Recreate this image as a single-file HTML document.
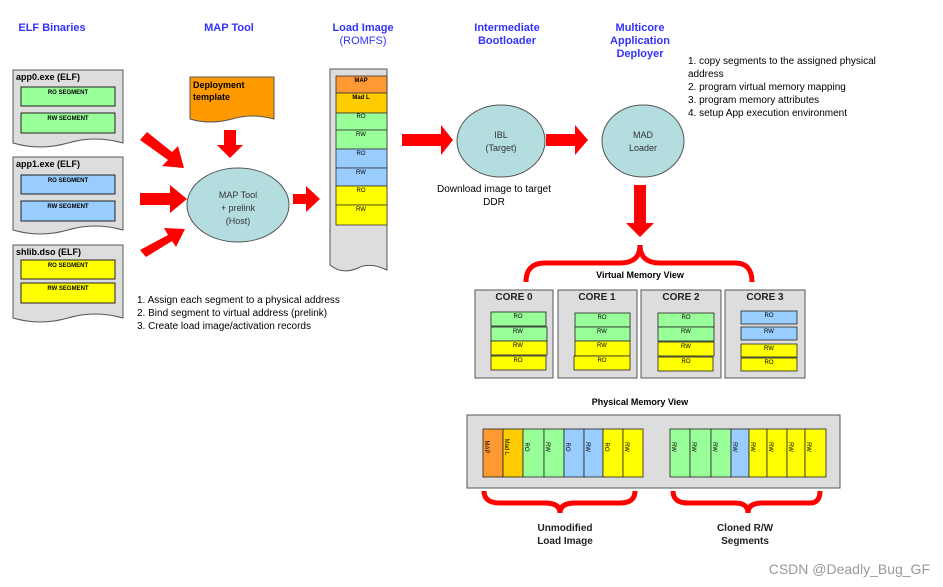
<!DOCTYPE html>
<html><head><meta charset="utf-8"><style>
body{margin:0;background:#fff}
svg{display:block;font-family:"Liberation Sans",sans-serif}
.t{font-size:6px;text-anchor:middle;fill:#000}
</style></head><body>
<svg width="943" height="587" viewBox="0 0 943 587" xmlns="http://www.w3.org/2000/svg">
<g font-weight="bold" font-size="11" fill="#3333ff" text-anchor="middle">
<text x="52" y="31">ELF Binaries</text>
<text x="229" y="31">MAP Tool</text>
<text x="363" y="31">Load Image</text>
<text x="363" y="44" font-weight="normal">(ROMFS)</text>
<text x="507" y="31">Intermediate</text>
<text x="507" y="44">Bootloader</text>
<text x="640" y="31">Multicore</text>
<text x="640" y="44">Application</text>
<text x="640" y="57">Deployer</text>
</g>
<!-- ELF docs -->
<g stroke="#555" stroke-width="1" fill="#ddd">
<path d="M13,70 H123 V143 Q95,135 68,143 Q40,151 13,143 Z"/>
<path d="M13,157 H123 V230 Q95,222 68,230 Q40,238 13,230 Z"/>
<path d="M13,245 H123 V318 Q95,310 68,318 Q40,326 13,318 Z"/>
</g>
<g font-size="9" font-weight="bold" fill="#000">
<text x="16" y="80">app0.exe (ELF)</text>
<text x="16" y="167">app1.exe (ELF)</text>
<text x="16" y="255">shlib.dso (ELF)</text>
</g>
<g stroke="#222" stroke-width="1">
<rect x="21" y="87" width="94" height="19" fill="#99ff99"/>
<rect x="21" y="113" width="94" height="20" fill="#99ff99"/>
<rect x="21" y="175" width="94" height="19" fill="#99ccff"/>
<rect x="21" y="201" width="94" height="20" fill="#99ccff"/>
<rect x="21" y="260" width="94" height="19" fill="#ffff00"/>
<rect x="21" y="283" width="94" height="20" fill="#ffff00"/>
</g>
<g class="t" font-size="6" font-weight="bold" text-anchor="middle">
<text x="68" y="94">RO SEGMENT</text><text x="68" y="120">RW SEGMENT</text>
<text x="68" y="182">RO SEGMENT</text><text x="68" y="208">RW SEGMENT</text>
<text x="68" y="267">RO SEGMENT</text><text x="68" y="290">RW SEGMENT</text>
</g>
<!-- deployment template -->
<path d="M190,77 H274 V119 Q252,113 232,119 Q210,125 190,119 Z" fill="#ff9900" stroke="#555"/>
<text x="193" y="88" font-size="9" font-weight="bold">Deployment</text>
<text x="193" y="100" font-size="9" font-weight="bold">template</text>
<!-- red arrows -->
<g fill="#ff0000">
<polygon points="224,130 236,130 236,145 243,145 230,158 217,145 224,145"/>
<polygon points="140,140 147,132 172,152 178,146 184,168 162,166 168,160"/>
<polygon points="140,193 170,193 170,185 187,199 170,213 170,205 140,205"/>
<polygon points="140,250 168,235 164,228 185,229 176,247 172,241 146,257"/>
<polygon points="293,194 306,194 306,186 320,199 306,212 306,204 293,204"/>
<polygon points="402,134 441,134 441,125 453,140 441,155 441,146 402,146"/>
<polygon points="546,134 575,134 575,125 588,140 575,155 575,146 546,146"/>
<polygon points="634,185 646,185 646,223 654,223 640,237 626,223 634,223"/>
</g>
<ellipse cx="238" cy="205" rx="51" ry="37" fill="#b4dde0" stroke="#555"/>
<g font-size="9" text-anchor="middle" fill="#333">
<text x="238" y="198">MAP Tool</text><text x="238" y="211">+ prelink</text><text x="238" y="224">(Host)</text>
</g>
<!-- load image -->
<path d="M330,69 H387 V270 Q370,262 358,268 Q342,275 330,265 Z" fill="#ddd" stroke="#555"/>
<g stroke="#333" stroke-width="0.8">
<rect x="336" y="76" width="51" height="17" fill="#ff9933"/>
<rect x="336" y="93" width="51" height="20" fill="#ffcc00"/>
<rect x="336" y="113" width="51" height="17" fill="#99ff99"/>
<rect x="336" y="130" width="51" height="19" fill="#99ff99"/>
<rect x="336" y="149" width="51" height="19" fill="#99ccff"/>
<rect x="336" y="168" width="51" height="18" fill="#99ccff"/>
<rect x="336" y="186" width="51" height="19" fill="#ffff00"/>
<rect x="336" y="205" width="51" height="20" fill="#ffff00"/>
</g>
<g class="t">
<text x="361" y="82" font-weight="bold">MAP</text><text x="361" y="99" font-weight="bold">Mad L</text>
<text x="361" y="118">RO</text><text x="361" y="136">RW</text><text x="361" y="155">RO</text>
<text x="361" y="174">RW</text><text x="361" y="192">RO</text><text x="361" y="211">RW</text>
</g>
<!-- IBL / MAD -->
<ellipse cx="501" cy="141" rx="44" ry="36" fill="#b4dde0" stroke="#555"/>
<ellipse cx="643" cy="141" rx="41" ry="36" fill="#b4dde0" stroke="#555"/>
<g font-size="9" text-anchor="middle" fill="#333">
<text x="501" y="138">IBL</text><text x="501" y="151">(Target)</text>
<text x="643" y="138">MAD</text><text x="643" y="151">Loader</text>
</g>
<g font-size="10" fill="#000">
<text x="494" y="192" text-anchor="middle">Download image to target</text>
<text x="494" y="205" text-anchor="middle">DDR</text>
<text x="688" y="64">1. copy segments to the assigned physical</text>
<text x="688" y="77">address</text>
<text x="688" y="90">2. program virtual memory mapping</text>
<text x="688" y="103">3. program memory attributes</text>
<text x="688" y="116">4. setup App execution environment</text>
<text x="137" y="303">1. Assign each segment to a physical address</text>
<text x="137" y="316">2. Bind segment to virtual address (prelink)</text>
<text x="137" y="329">3. Create load image/activation records</text>
</g>
<!-- braces -->
<g fill="none" stroke="#ff0000" stroke-width="5">
<path d="M526,282 Q526,263 545,263 H620 Q640,263 640,245 Q640,263 660,263 H735 Q752,263 752,282"/>
<path d="M484,491 Q484,503 500,503 H545 Q560,503 560,513 Q560,503 575,503 H620 Q635,503 635,491"/>
<path d="M673,491 Q673,503 688,503 H735 Q748,503 748,513 Q748,503 762,503 H810 Q820,503 820,491"/>
</g>
<text x="640" y="278" font-size="9" font-weight="bold" text-anchor="middle">Virtual Memory View</text>
<!-- cores -->
<g fill="#ddd" stroke="#555">
<rect x="475" y="290" width="78" height="88"/><rect x="558" y="290" width="79" height="88"/>
<rect x="641" y="290" width="80" height="88"/><rect x="725" y="290" width="80" height="88"/>
</g>
<g font-size="10" font-weight="bold" text-anchor="middle" fill="#222">
<text x="514" y="300">CORE 0</text><text x="597" y="300">CORE 1</text>
<text x="681" y="300">CORE 2</text><text x="765" y="300">CORE 3</text>
</g>
<g stroke="#222" stroke-width="0.8">
<rect x="491" y="312" width="55" height="14" fill="#99ff99"/><rect x="491" y="327" width="56" height="14" fill="#99ff99"/>
<rect x="491" y="341" width="56" height="14" fill="#ffff00"/><rect x="491" y="356" width="55" height="14" fill="#ffff00"/>
<rect x="575" y="313" width="55" height="14" fill="#99ff99"/><rect x="575" y="327" width="55" height="14" fill="#99ff99"/>
<rect x="575" y="341" width="55" height="15" fill="#ffff00"/><rect x="574" y="356" width="56" height="14" fill="#ffff00"/>
<rect x="658" y="313" width="56" height="14" fill="#99ff99"/><rect x="658" y="327" width="56" height="14" fill="#99ff99"/>
<rect x="658" y="342" width="56" height="14" fill="#ffff00"/><rect x="658" y="357" width="55" height="14" fill="#ffff00"/>
<rect x="741" y="311" width="56" height="13" fill="#99ccff"/><rect x="741" y="327" width="56" height="13" fill="#99ccff"/>
<rect x="741" y="344" width="56" height="13" fill="#ffff00"/><rect x="741" y="358" width="56" height="13" fill="#ffff00"/>
</g>
<g class="t">
<text x="518" y="318">RO</text><text x="518" y="333">RW</text><text x="518" y="347">RW</text><text x="518" y="362">RO</text>
<text x="602" y="319">RO</text><text x="602" y="333">RW</text><text x="602" y="347">RW</text><text x="602" y="362">RO</text>
<text x="686" y="319">RO</text><text x="686" y="333">RW</text><text x="686" y="348">RW</text><text x="686" y="363">RO</text>
<text x="769" y="317">RO</text><text x="769" y="333">RW</text><text x="769" y="350">RW</text><text x="769" y="364">RO</text>
</g>
<text x="640" y="405" font-size="9" font-weight="bold" text-anchor="middle">Physical Memory View</text>
<rect x="467" y="415" width="373" height="73" fill="#ddd" stroke="#555"/>
<g stroke="#222" stroke-width="0.8">
<rect x="483" y="429" width="20" height="48" fill="#ff9933"/><rect x="503" y="429" width="20" height="48" fill="#ffcc00"/>
<rect x="523" y="429" width="21" height="48" fill="#99ff99"/><rect x="544" y="429" width="20" height="48" fill="#99ff99"/>
<rect x="564" y="429" width="20" height="48" fill="#99ccff"/><rect x="584" y="429" width="19" height="48" fill="#99ccff"/>
<rect x="603" y="429" width="20" height="48" fill="#ffff00"/><rect x="623" y="429" width="20" height="48" fill="#ffff00"/>
<rect x="670" y="429" width="20" height="48" fill="#99ff99"/><rect x="690" y="429" width="21" height="48" fill="#99ff99"/>
<rect x="711" y="429" width="20" height="48" fill="#99ff99"/><rect x="731" y="429" width="18" height="48" fill="#99ccff"/>
<rect x="749" y="429" width="18" height="48" fill="#ffff00"/><rect x="767" y="429" width="20" height="48" fill="#ffff00"/>
<rect x="787" y="429" width="18" height="48" fill="#ffff00"/><rect x="805" y="429" width="21" height="48" fill="#ffff00"/>
</g>
<g class="t" font-size="6">
<text transform="translate(485,447) rotate(90)">MAP</text><text transform="translate(505,447) rotate(90)">Mad L</text>
<text transform="translate(525,447) rotate(90)">RO</text><text transform="translate(546,447) rotate(90)">RW</text>
<text transform="translate(566,447) rotate(90)">RO</text><text transform="translate(586,447) rotate(90)">RW</text>
<text transform="translate(605,447) rotate(90)">RO</text><text transform="translate(625,447) rotate(90)">RW</text>
<text transform="translate(672,447) rotate(90)">RW</text><text transform="translate(692,447) rotate(90)">RW</text>
<text transform="translate(713,447) rotate(90)">RW</text><text transform="translate(733,447) rotate(90)">RW</text>
<text transform="translate(751,447) rotate(90)">RW</text><text transform="translate(769,447) rotate(90)">RW</text>
<text transform="translate(789,447) rotate(90)">RW</text><text transform="translate(807,447) rotate(90)">RW</text>
</g>
<g font-size="10" font-weight="bold" text-anchor="middle" fill="#222">
<text x="565" y="531">Unmodified</text><text x="565" y="544">Load Image</text>
<text x="745" y="531">Cloned R/W</text><text x="745" y="544">Segments</text>
</g>
<text x="930" y="574" font-size="14" fill="#999" text-anchor="end">CSDN @Deadly_Bug_GF</text>
</svg>
</body></html>
